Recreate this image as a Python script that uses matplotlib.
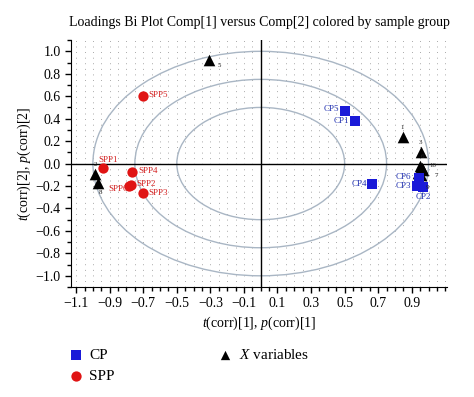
import numpy as np
import matplotlib
matplotlib.use("Agg")
import matplotlib.pyplot as plt
from matplotlib.patches import Ellipse
from matplotlib.ticker import MultipleLocator

plt.rcParams['font.family'] = ['Liberation Serif', 'DejaVu Serif']
plt.rcParams['mathtext.fontset'] = 'custom'
plt.rcParams['mathtext.it'] = 'Liberation Serif:italic'
plt.rcParams['mathtext.rm'] = 'Liberation Serif'

# samples CP
cp_names = ['CP1', 'CP2', 'CP3', 'CP4', 'CP5', 'CP6']
cp_x = [0.56, 0.967, 0.93, 0.666, 0.50, 0.945]
cp_y = [0.38, -0.21, -0.196, -0.183, 0.47, -0.13]

# samples SPP
spp_names = ['SPP1', 'SPP2', 'SPP3', 'SPP4', 'SPP5', 'SPP6']
spp_x = [-0.937, -0.774, -0.703, -0.765, -0.70, -0.785]
spp_y = [-0.043, -0.19, -0.263, -0.075, 0.60, -0.204]

# X variables
var_names = ['1', '2', '3', '4', '5', '6', '7', '8', '9', '10']
var_x = [0.845, -0.987, 0.954, 0.94, -0.306, 0.95, 0.965, -0.971, 0.955, 0.96]
var_y = [0.236, -0.093, 0.104, -0.08, 0.927, -0.02, -0.06, -0.175, -0.10, -0.04]

ring_radii = [1.0, 0.75, 0.5]

# label offsets (points) and alignment
spp_off = {'SPP1': (-4, 6, 'left'), 'SPP2': (4, 1, 'left'), 'SPP3': (4, 0, 'left'),
           'SPP4': (4, 1, 'left'), 'SPP5': (4, 1, 'left'), 'SPP6': (-1, -2, 'right')}
cp_off = {'CP1': (-4, 0, 'right'), 'CP2': (0, -7, 'center'), 'CP3': (-4, 0, 'right'),
          'CP4': (-4, 0, 'right'), 'CP5': (-4, 1, 'right'), 'CP6': (-6, 1, 'right')}
var_off = {'1': (0, 7), '2': (0, 7), '3': (0, 7), '4': None, '5': (7, -4),
           '6': (2, 7), '7': (10, -4), '8': (2, -7), '9': (5, -9), '10': (8, 2)}

fig = plt.figure(figsize=(4.74, 3.97), dpi=100)
ax = fig.add_axes([0.150, 0.277, 0.793, 0.622])

ax.set_xlim(-1.13, 1.11)
ax.set_ylim(-1.1, 1.1)

# dotted lattice background
ax.xaxis.set_minor_locator(MultipleLocator(0.05))
ax.grid(True, which='both', axis='x', color='#8c8c8c', linewidth=0.6,
        linestyle=(0, (1, 5.7)))
ax.set_axisbelow(True)

for r in ring_radii:
    ax.add_patch(Ellipse((0, 0), 2 * r, 2 * r, fill=False, edgecolor='#a9b6c4',
                         linewidth=1.0, zorder=1))

ax.axhline(0, color='black', linewidth=1.0, zorder=2)
ax.axvline(0, color='black', linewidth=1.0, zorder=2)

ax.scatter(var_x, var_y, marker='^', s=70, color='black', zorder=3, linewidths=0)
ax.scatter(spp_x, spp_y, marker='o', s=55, color='#e01414', zorder=4, linewidths=0)
ax.scatter(cp_x, cp_y, marker='s', s=45, color='#1a1ad8', zorder=4, linewidths=0)

for n, x, y in zip(spp_names, spp_x, spp_y):
    dx, dy, ha = spp_off[n]
    ax.annotate(n, (x, y), xytext=(dx, dy), textcoords='offset points', ha=ha,
                va='center', fontsize=6.5, color='#d42020', zorder=5)
for n, x, y in zip(cp_names, cp_x, cp_y):
    dx, dy, ha = cp_off[n]
    ax.annotate(n, (x, y), xytext=(dx, dy), textcoords='offset points', ha=ha,
                va='center', fontsize=6.5, color='#2030b0', zorder=5)
for n, x, y in zip(var_names, var_x, var_y):
    if var_off[n] is None:
        continue
    dx, dy = var_off[n]
    ax.annotate(n, (x, y), xytext=(dx, dy), textcoords='offset points', ha='center',
                va='center', fontsize=5, color='#222222', zorder=5)

ax.spines['top'].set_visible(False)
ax.spines['right'].set_visible(False)

ax.set_xticks(np.round(np.arange(-1.1, 1.0, 0.2), 1))
ax.set_xticklabels(['\u22121.1', '\u22120.9', '\u22120.7', '\u22120.5', '\u22120.3',
                    '\u22120.1', '0.1', '0.3', '0.5', '0.7', '0.9'])
ax.set_yticks(np.round(np.arange(-1.0, 1.01, 0.2), 1))
ax.yaxis.set_minor_locator(MultipleLocator(0.1))
ax.tick_params(axis='both', which='major', labelsize=10, direction='out', length=4,
               width=1.0)
ax.tick_params(axis='both', which='minor', direction='out', length=3, width=1.0)

ax.set_xlabel('$t$(corr)[1], $p$(corr)[1]', fontsize=10, labelpad=3)
ax.set_ylabel('$t$(corr)[2], $p$(corr)[2]', fontsize=10, labelpad=2)
ax.set_title('Loadings Bi Plot Comp[1] versus Comp[2] colored by sample group',
             fontsize=10, pad=10)

h_cp = ax.scatter([], [], marker='s', s=45, color='#1a1ad8', linewidths=0)
h_spp = ax.scatter([], [], marker='o', s=55, color='#e01414', linewidths=0)
h_var = ax.scatter([], [], marker='^', s=45, color='black', linewidths=0)
fig.legend([h_cp, h_spp, h_var], ['CP', 'SPP', '$X$ variables'], ncol=2,
           loc='upper left', bbox_to_anchor=(0.134, 0.14), frameon=False,
           fontsize=11, handlelength=0.8, handletextpad=0.5, columnspacing=6.8,
           labelspacing=0.5, borderaxespad=0)

fig.savefig('out.png', dpi=100)
